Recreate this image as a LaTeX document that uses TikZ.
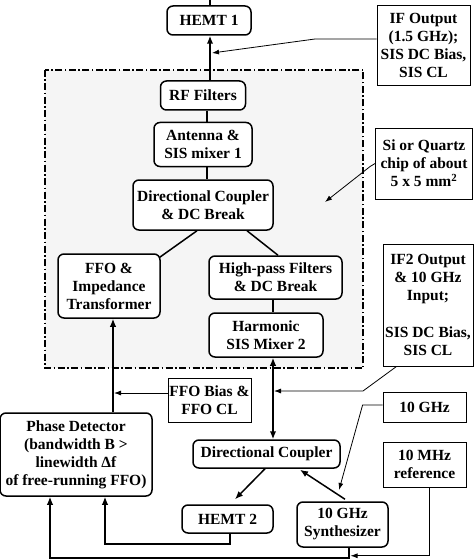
\documentclass[tikz,border=0pt]{standalone}
\usepackage{fontspec}
\setmainfont{Liberation Serif}
\usetikzlibrary{positioning,calc,arrows.meta}

\tikzset{
  txt/.style={align=center, inner sep=0pt, font=\bfseries\fontsize{15.5}{18}\selectfont},
  blk/.style={txt, draw, fill=white, line width=1.5pt, rounded corners=6pt},
  lbl/.style={txt, draw, fill=white, line width=0.8pt},
  thk/.style={line width=1.5pt, -{Latex[length=8pt,width=6.5pt]}},
  thn/.style={line width=0.8pt, -{Latex[length=7pt,width=5pt]}},
}

\begin{document}
\begin{tikzpicture}[x=1pt,y=-1pt]
  \useasboundingbox (0,0) rectangle (474,559);

  % chip
  \draw[line width=1.3pt, fill=gray!8,
        dash pattern=on 7pt off 2.5pt on 1.5pt off 2.5pt] (45,70) rectangle (363,368);

  \node[blk, minimum width=84pt, minimum height=29pt] (hemtA) at (209,20.5) {HEMT 1};
  \node[blk, minimum width=85pt, minimum height=29pt] (rf) at (203,95.5) {RF Filters};
  \node[blk, minimum width=98pt, minimum height=44pt] (ant) at (203,144.5) {Antenna \&\\SIS mixer 1};
  \node[blk, minimum width=140pt, minimum height=50pt] (dcA) at (203,205) {Directional Coupler\\\& DC Break};
  \node[blk, minimum width=102pt, minimum height=64pt] (ffo) at (109,286) {FFO \&\\Impedance\\Transformer};
  \node[blk, minimum width=133pt, minimum height=43pt] (hpf) at (275.5,277.5) {High-pass Filters\\\& DC Break};
  \node[blk, minimum width=114pt, minimum height=44pt] (harm) at (266,335) {Harmonic\\SIS Mixer 2};

  \node[blk, minimum width=152pt, minimum height=83pt] (pd) at (76,454.5)
    {Phase Detector\\(bandwidth B >\\linewidth Δf\\of free-running FFO)};
  \node[blk, minimum width=147pt, minimum height=28pt] (dcB) at (266.5,454) {Directional Coupler};
  \node[blk, minimum width=91pt, minimum height=28pt] (hemtB) at (227.5,519) {HEMT 2};
  \node[blk, minimum width=91pt, minimum height=45pt] (syn) at (342.5,524.5) {10 GHz\\Synthesizer};

  % labels
  \node[lbl, minimum width=93pt, minimum height=80pt] (ifA) at (423.5,45)
    {IF Output\\(1.5 GHz);\\SIS DC Bias,\\SIS CL};
  \node[lbl, minimum width=97pt, minimum height=71pt] (si) at (424,163.5)
    {Si or Quartz\\chip of about\\5 x 5 mm\textsuperscript{2}};
  \node[lbl, minimum width=90pt, minimum height=122pt] (ifB) at (428,305)
    {IF2 Output\\\& 10 GHz\\Input;\\[19pt]SIS DC Bias,\\SIS CL};
  \node[lbl, minimum width=83pt, minimum height=44pt] (bias) at (209.5,400) {FFO Bias \&\\FFO CL};
  \node[lbl, minimum width=83pt, minimum height=30pt] (tenG) at (424.5,407) {10 GHz};
  \node[lbl, minimum width=83pt, minimum height=45pt] (tenM) at (424.5,464.5) {10 MHz\\reference};

  \coordinate (top) at (210,0);
  \coordinate (mx) at (207,0);
  \coordinate (hx) at (273,0);
  \coordinate (fx) at (113,0);
  \coordinate (tapA) at (212,53);
  \coordinate (kinkA) at (315,39);
  \coordinate (chip) at (325,202);
  \coordinate (kinkB) at (363,391);
  \coordinate (synTip) at (339,490);

  % main chain
  \draw[line width=1.5pt] (top) -- (hemtA.north -| top);
  \draw[thk] (rf.north -| top) -- (hemtA.south -| top);
  \draw[line width=1.5pt] (rf.south -| mx) -- (ant.north -| mx);
  \draw[line width=1.5pt] (ant.south -| mx) -- (dcA.north -| mx);
  \draw[line width=1.5pt] ($(dcA.south)+(-6,0)$) -- ($(ffo.north east)+(-1,4)$);
  \draw[line width=1.5pt] ($(dcA.south)+(44,0)$) -- ($(hpf.north)+(2.5,0)$);
  \draw[line width=1.5pt] (hpf.south -| hx) -- (harm.north -| hx);
  \draw[thk, {Latex[length=8pt,width=6.5pt]}-{Latex[length=8pt,width=6.5pt]}]
    (harm.south -| hx) -- (dcB.north -| hx);
  \draw[thk] (pd.north -| fx) -- (ffo.south -| fx);
  \draw[thk] ($(dcB.south)+(-1.5,0)$) -- ($(hemtB.north)+(7.5,-5)$);
  \draw[thk] ($(syn.north)+(2.5,-2)$) -- ($(dcB.south)+(33.5,1)$);
  \draw[thk] ($(hemtB.south)+(2.5,0)$) -- ++(0,10) -| ($(pd.south)+(29,0)$);
  \draw[thk] ($(syn.south)+(6.5,0)$) -- ++(0,10) -| ($(pd.south)+(-26,0)$);

  % label pointers
  \draw[thn] ($(ifA.west)+(0,-6)$) -- (kinkA) -- (tapA);
  \draw[thn] (si.west) -- ++(-5,3) -- (chip);
  \draw[thn] ($(ifB.south west)+(14,0)$) -- (kinkB) -- ($(kinkB -| hx)+(1,0)$);
  \draw[thn] ($(bias.west)+(0,-7)$) coordinate (fb) -- ($(fb -| fx)+(1,0)$);
  \draw[thn] ($(tenG.west)+(0,-2)$) -- ++(-20,0) -- (synTip);
  \draw[thn] ($(tenM.south)+(4.5,0)$) |- ($(syn.south)+(8,8)$);
\end{tikzpicture}
\end{document}
